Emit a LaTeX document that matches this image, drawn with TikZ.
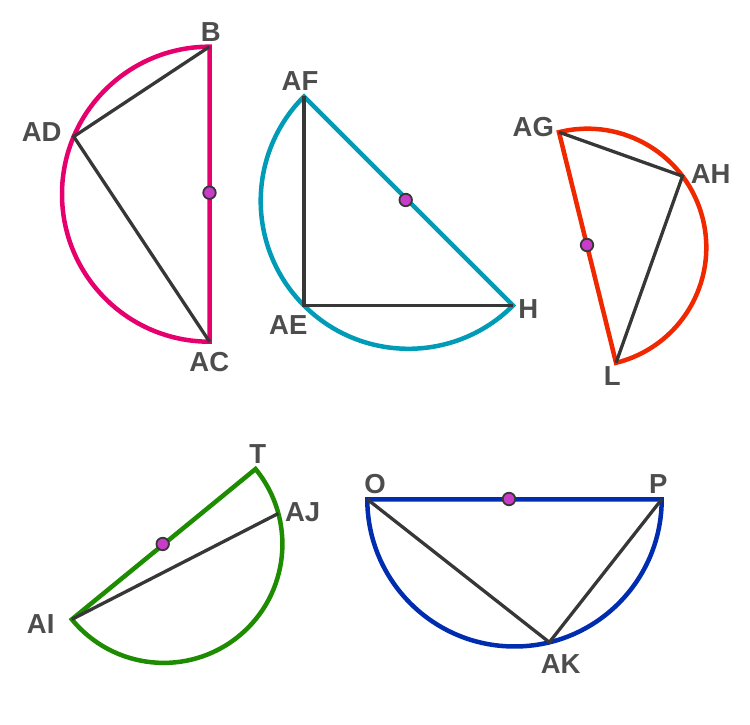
\documentclass[tikz,border=0pt]{standalone}
\usepackage{fontspec}
\setmainfont{Liberation Sans}
\usetikzlibrary{calc}
\definecolor{pinkc}{RGB}{230,0,110}
\definecolor{cyanc}{RGB}{0,155,182}
\definecolor{redc}{RGB}{240,40,0}
\definecolor{greenc}{RGB}{30,140,0}
\definecolor{bluec}{RGB}{0,45,175}
\definecolor{darkl}{RGB}{55,55,55}
\definecolor{labelc}{RGB}{77,77,77}
\definecolor{dotc}{RGB}{200,60,200}
\tikzset{
  shape line/.style={line width=4.5pt, line join=miter},
  chord/.style={draw=darkl, line width=3.3pt},
  lbl/.style={text=labelc, font=\fontsize{27.5}{30}\selectfont\bfseries, inner sep=0pt},
  cdot/.style={circle, draw=darkl, fill=dotc, line width=1.8pt, minimum size=12.5pt, inner sep=0pt}
}
\begin{document}
\begin{tikzpicture}[x=1pt,y=1pt]
\useasboundingbox (0,0) rectangle (750,725);
% ---------- pink ----------
\coordinate (c1) at (209.5,530.8);
\coordinate (B) at ($(c1)+(90:147.5)$);
\coordinate (AC) at ($(c1)+(270:147.5)$);
\coordinate (AD) at ($(c1)+(157:147.5)$);
\draw[pinkc, shape line] (B) arc[start angle=90, end angle=270, radius=147.5] -- cycle;
\draw[chord] (B) -- (AD) -- (AC);
\node[cdot] (d1) at (209.5,532.3) {};
\node[lbl] (lB) at (210.7,693.3) {B};
\node[lbl] (lAD) at (41.7,593.3) {AD};
\node[lbl] (lAC) at (209.3,363.3) {AC};
% ---------- cyan ----------
\coordinate (c2) at (408.5,524);
\coordinate (AF) at ($(c2)+(135:147.8)$);
\coordinate (H) at ($(c2)+(315:147.8)$);
\coordinate (AE) at ($(c2)+(225:147.8)$);
\draw[cyanc, shape line] (AF) arc[start angle=135, end angle=315, radius=147.8] -- cycle;
\draw[chord] (AF) -- (AE) -- (H);
\node[cdot] (d2) at (405.7,525) {};
\node[lbl] (lAF) at (300,644) {AF};
\node[lbl] (lAE) at (288.3,400) {AE};
\node[lbl] (lH) at (528.3,415.7) {H};
% ---------- red ----------
\coordinate (c3) at (587.5,477.5);
\coordinate (AG) at ($(c3)+(103.9:118.8)$);
\coordinate (L) at ($(c3)+(-76.1:118.8)$);
\coordinate (AH) at ($(c3)+(36.9:118.8)$);
\draw[redc, shape line] (L) arc[start angle=-76.1, end angle=103.9, radius=118.8] -- cycle;
\draw[chord] (AG) -- (AH) -- (L);
\node[cdot] (d3) at (587,480) {};
\node[lbl] (lAG) at (533.3,598.3) {AG};
\node[lbl] (lAH) at (710.7,550.7) {AH};
\node[lbl] (lL) at (612.3,349) {L};
% ---------- green ----------
\coordinate (c4) at (163.7,180.8);
\coordinate (T) at ($(c4)+(39.3:118.7)$);
\coordinate (AI) at ($(c4)+(219.3:118.7)$);
\coordinate (AJ) at ($(c4)+(15:118.7)$);
\draw[greenc, shape line] (AI) arc[start angle=219.3, end angle=399.3, radius=118.7] -- cycle;
\draw[chord] (AI) -- (AJ);
\node[cdot] (d4) at (162.7,181) {};
\node[lbl] (lT) at (257.7,271) {T};
\node[lbl] (lAJ) at (302.7,213.3) {AJ};
\node[lbl] (lAI) at (40.7,100.7) {AI};
% ---------- blue ----------
\coordinate (c5) at (514.5,225.7);
\coordinate (O) at ($(c5)+(180:147.2)$);
\coordinate (P) at ($(c5)+(0:147.2)$);
\coordinate (AK) at ($(c5)+(-76.3:147.2)$);
\draw[bluec, shape line] (O) arc[start angle=180, end angle=360, radius=147.2] -- cycle;
\draw[chord] (O) -- (AK) -- (P);
\node[cdot] (d5) at (509,226) {};
\node[lbl] (lO) at (375,241) {O};
\node[lbl] (lP) at (658.3,241) {P};
\node[lbl] (lAK) at (560.7,61) {AK};
\end{tikzpicture}
\end{document}
